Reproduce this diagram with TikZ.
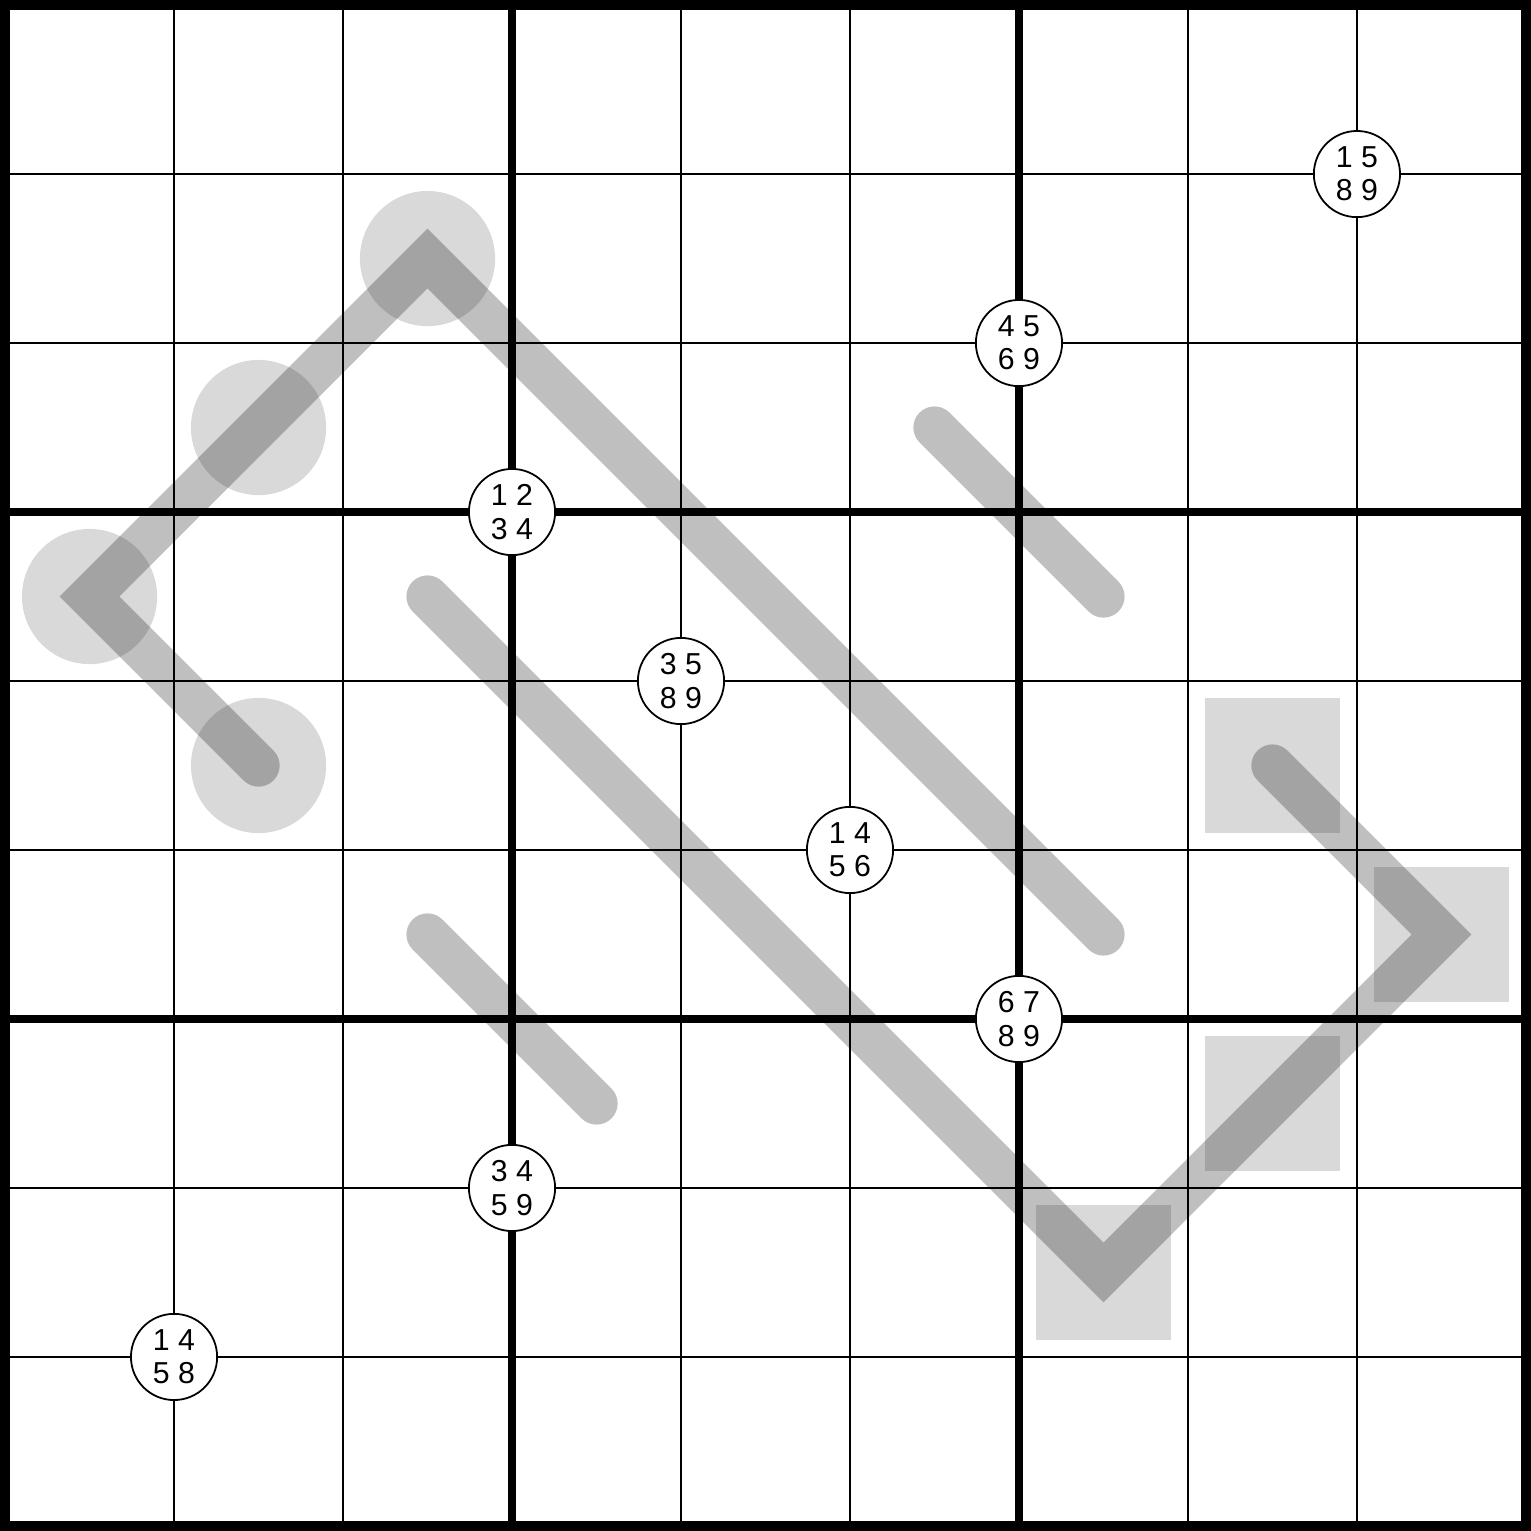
\documentclass[tikz,border=0pt]{standalone}
\usepackage{fontspec}
\setmainfont{Liberation Sans}
\begin{document}
\begin{tikzpicture}[x=1cm, y=-1cm,
  cell/.style = {line width=0.45pt},
  box/.style = {line width=1.35pt},
  shade/.style = {line width=0.25cm, draw opacity=0.25, line cap=round, line join=miter},
  bulb/.style = {fill=black, fill opacity=0.15},
  clue/.style = {draw, circle, fill=white, line width=0.3pt, inner sep=0pt, minimum size=0.51cm,
    align=center, font=\fontsize{5.1}{5.6}\selectfont}]
\useasboundingbox (-0.03,-0.03) rectangle (9.03,9.03);
% grid
\foreach \i in {1,2,4,5,7,8} {
  \draw[cell] (\i,0) -- (\i,9);
  \draw[cell] (0,\i) -- (9,\i);
}
\foreach \i in {3,6} {
  \draw[box] (\i,0) -- (\i,9);
  \draw[box] (0,\i) -- (9,\i);
}
\draw[line width=1.7pt] (0,0) rectangle (9,9);
% circles and squares
\foreach \x/\y in {2.5/1.5, 1.5/2.5, 0.5/3.5, 1.5/4.5}
  \fill[bulb] (\x,\y) circle (0.4);
\foreach \x/\y in {7.5/4.5, 8.5/5.5, 7.5/6.5, 6.5/7.5}
  \fill[bulb] (\x-0.4,\y-0.4) rectangle (\x+0.4,\y+0.4);
% lines
\draw[shade] (1.5,4.5) -- (0.5,3.5) -- (2.5,1.5) -- (6.5,5.5);
\draw[shade] (7.5,4.5) -- (8.5,5.5) -- (6.5,7.5) -- (2.5,3.5);
\draw[shade] (5.5,2.5) -- (6.5,3.5);
\draw[shade] (2.5,5.5) -- (3.5,6.5);
% clues
\node[clue] (c1) at (8,1) {1 5\\8 9};
\node[clue] (c2) at (6,2) {4 5\\6 9};
\node[clue] (c3) at (3,3) {1 2\\3 4};
\node[clue] (c4) at (4,4) {3 5\\8 9};
\node[clue] (c5) at (5,5) {1 4\\5 6};
\node[clue] (c6) at (6,6) {6 7\\8 9};
\node[clue] (c7) at (3,7) {3 4\\5 9};
\node[clue] (c8) at (1,8) {1 4\\5 8};
\end{tikzpicture}
\end{document}
